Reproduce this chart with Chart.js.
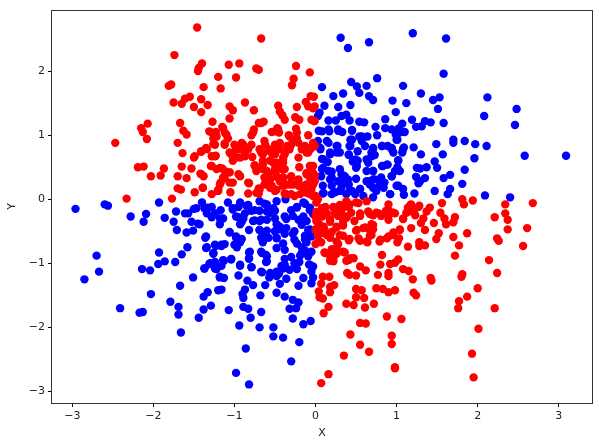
<!DOCTYPE html>
<html><head><meta charset="utf-8">
<script src="https://cdn.jsdelivr.net/npm/chart.js@4"></script>
<style>html,body{margin:0;padding:0;background:#fff}canvas{display:block}</style></head>
<body><canvas id="c" width="599" height="446"></canvas>
<script>
const xTicks=[-3,-2,-1,0,1,2,3];
const yTicks=[-3,-2,-1,0,1,2];
const xRange=[-3.25,3.41];
const yRange=[-3.18,2.96];
const redPoints=[
[-1.46,2.68],[-.67,2.51],[-1.74,2.25],[-1.40,2.12],[-1.44,2.05],[-1.45,2.00],[-1.07,2.10],[-.94,2.12],[-.73,2.04],[-.70,2.02],[-.24,2.08],[-.07,1.98],[-1.20,1.91],[-.98,1.90],[-.27,1.88],[-.29,1.78],[-1.81,1.77],[-1.78,1.79],[-1.38,1.75],[-1.17,1.73],[-.06,1.61],[-.12,1.52],[-1.55,1.60],[-1.61,1.57],[-1.41,1.56],[-1.75,1.51],[-1.65,1.49],[-1.33,1.47],[-1.50,1.44],[-1.41,1.36],[-.87,1.51],[-1.06,1.45],[-1.02,1.39],[-.76,1.39],[-.46,1.46],[-.44,1.37],[-.41,1.31],[-.38,1.24],[-.23,1.44],[-.25,1.28],[-.20,1.24],[-.09,1.45],[-.03,1.42],[-.05,1.24],[-.01,1.22],[-1.06,1.26],[-2.07,1.18],[-2.15,1.11],[-2.13,1.05],[-2.08,.94],[-2.47,.88],[-1.67,1.19],[-1.63,1.07],[-1.59,1.01],[-1.70,.88],[-1.64,.72],[-1.50,.65],[-1.27,1.21],[-.70,1.19],[-.64,1.21],[-.76,1.09],[-.79,1.00],[-1.15,1.13],[-1.31,1.06],[-1.23,1.05],[-1.12,1.04],[-1.08,.95],[-1.26,.95],[-1.26,.86],[-1.12,.87],[-.54,1.05],[-.47,1.11],[-.45,1.04],[-.33,1.00],[-.24,1.10],[-.23,.95],[-.09,1.00],[-.28,.91],[-.35,.83],
[-2.19,.50],[-2.12,.51],[-2.03,.36],[-1.91,.37],[-1.87,.48],[-2.33,.01],[-1.77,.01],[-1.70,.36],[-1.65,.51],[-1.59,.33],[-1.53,.48],[-1.70,.17],[-1.66,.15],[-1.49,.11],[-1.39,.18],[-1.42,.40],[-1.38,.36],[-1.41,.74],[-1.34,.78],[-1.23,.68],[-1.29,.52],[-1.22,.47],[-1.15,.48],[-1.06,.42],[-1.12,.33],[-1.17,.26],[-1.20,.15],[-1.28,.08],[-1.02,.26],[-.93,.36],[-.82,.25],[-1.05,.11],[-.83,.09],[-.70,.17],[-.70,.09],
[-1.06,.73],[-1.02,.60],[-.98,.80],[-.91,.88],[-.87,.73],[-.79,.85],[-.78,.66],[-1.00,.67],[-.93,.65],[-.89,.80],[-.67,.73],[-.63,.91],[-.58,.78],[-.53,.70],[-.48,.80],[-.44,.88],[-.34,.78],[-.30,.85],[-.21,.88],[-.15,.80],[-.07,.78],[-.01,.83],[-.11,.73],[-.21,.65],[-.40,.65],[-.52,.57],[-.65,.60],[-.75,.53],[-.73,.44],[-.65,.47],[-.58,.39],[-.50,.47],[-.42,.47],[-.40,.57],[-.20,.50],[-.07,.52],[-.03,.41],[-.11,.39],[-.30,.34],[-.40,.34],[-.48,.35],[-.58,.31],[-.63,.23],[-.54,.21],[-.44,.28],[-.36,.23],[-.28,.23],[-.21,.26],[-.11,.23],[-.05,.16],[-.01,.28],[-.48,.15],[-.36,.08],[-.26,.05],[-.11,.10],[-.03,.05],[-.15,.18],[-.02,1.60],[-.01,1.45],[-.02,1.22],[-.03,.52],[-.01,.37],[0,.05],
[-1.00,.85],[-.95,.78],[-1.04,.70],[-.89,.85],[-.83,.78],[-.87,.67],[-.98,.65],[-.69,.78],[-.62,.85],[-.65,.70],[-.56,.75],[-.50,.85],[-.50,.70],[-.44,.78],[-.38,.70],[-.32,.98],[-.26,.91],[-.32,.78],[-.40,.62],[-.48,.57],[-.56,.60],[-.65,.54],[-.71,.47],[-.75,.52],[-.60,.44],[-.50,.44],[-.44,.49],[-.38,.47],[-.63,.34],[-.56,.31],[-.48,.36],[-.40,.34],[-.30,.36],[-.21,.31],[-.11,.41],[-.05,.52],[-.07,.34],[-.03,.23],[-.13,.21],[-.21,.21],[-.32,.23],[-.40,.21],[-.50,.13],[-.38,.09],[-.30,.08],[-.19,.08],[-.07,.08],[-.01,.05],[-.69,.15],[-.73,.10],[-.56,.18],[-.13,.83],[-.05,.80],[-.17,.78],[-.09,.73],[-.03,.88],[-1.41,.75],[-1.35,.80],[-1.49,.67],[-1.28,.67],[-1.24,.67],[-1.28,.52],[-1.18,.49],[-1.12,.44],[-1.06,.42],[-1.14,.34],[-1.18,.23],[-.95,.39],[-1.06,.26],[-1.41,.39],[-1.39,.18],[-1.20,.13],[-.83,.26],[-1.28,1.04],[-1.22,.98],[-1.14,1.11],[-1.10,1.01],[-1.24,.85],[-1.12,.85],[-.77,1.04],[-.50,1.06],[-.46,1.09],[-.23,1.04],[-.67,1.19],
[2.68,-.06],[1.94,-.02],[1.81,0],[1.83,-.08],[1.56,-.06],[2.34,-.08],[2.34,-.22],[2.21,-.28],[2.37,-.32],[2.37,-.47],[2.61,-.45],[2.56,-.73],[2.24,-.61],[2.26,-.65],[2.14,-.95],[2.24,-1.15],[1.87,-.53],[1.70,-.59],[1.77,-.72],[1.72,-.88],[1.81,-1.17],[1.80,-1.21],[2.00,-1.39],[1.87,-1.52],[1.77,-1.59],[1.76,-1.70],[2.21,-1.70],[2.01,-2.02],[1.93,-2.41],[1.95,-2.78],[1.42,-1.23],[1.43,-1.27],[1.20,-1.25],[1.21,-1.46],[1.24,-1.50],[1.06,-1.87],[.88,-1.83],[.94,-2.13],[.94,-2.26],[.98,-2.62],[.98,-2.64],[.66,-2.38],[.55,-2.27],[.43,-2.11],[.35,-2.44],[.16,-2.73],[.07,-2.87],[.55,-1.93],[.62,-1.94],[.72,-1.63],[.61,-1.69],[.38,-1.63],[.47,-1.65],[.16,-1.68],[.10,-1.78],[.09,-1.55],[.05,-1.53],[.04,-1.44],[.18,-1.45],[.18,-1.37],[.23,-1.34],[.09,-1.21],[.17,-1.21],[.07,-1.32],[.50,-1.40],[.57,-1.42],[.50,-1.53],[.60,-1.54],[.75,-1.39],[.83,-1.40],[.90,-1.45],[.98,-1.42],
[.77,-1.18],[.90,-1.15],[.90,-1.20],[.80,-1.02],[.82,-.87],[.92,-1.01],[1.02,-.94],[.98,-.99],[1.08,-1.09],[1.15,-1.12],[.55,-1.05],[.62,-1.11],[.39,-1.15],[.42,-1.18],[.50,-1.19],
[1.14,-.74],[1.28,-.67],[1.28,-.73],[1.35,-.72],[1.01,-.67],[.79,-.66],[.90,-.58],[1.49,-.62],[1.52,-.53],[1.18,-.45],[1.35,-.48],[1.30,-.37],[1.46,-.37],[1.61,-.39],[1.70,-.36],[1.72,-.28],[1.54,-.21],[1.59,-.30],[1.41,-.13],[1.28,-.10],[1.18,-.08],[1.08,-.31],[1.12,-.21],[1.22,-.16],[1.14,-.13],[1.04,-.47],[.96,-.52],[1.03,-.61],[.90,-.08],[.87,-.18],[.96,-.21],[.90,-.32],[.81,-.26],[.75,-.21],[.67,-.23],[.55,-.26],[.48,-.34],[.69,-.39],[.71,-.47],[.61,-.44],[.50,-.49],[.67,-.57],[.55,-.65],[.64,-.67],[.42,-.62],[.34,-.57],[.18,-.60],[.07,-.67],[0,-.70],[.03,-.57],[.11,-.47],[.26,-.44],[.34,-.41],[.05,-.41],[.01,-.34],[.09,-.26],[.18,-.31],[.26,-.16],[.34,-.13],[.22,-.13],[.42,-.08],[.50,-.05],[.63,-.03],[.38,-.03],[.44,-.21],[.28,-.26],[.38,-.29],[.11,-.18],[.28,-.70],[.20,-.78],[.11,-.83],[.36,-.83],[.26,-.85],[.18,-.96],[.22,-.93],[.38,-.96],[.43,-.92],[.01,-.05],[.03,0],[.01,-.2],[.02,-.45],
[.08,-.27],[.14,-.22],[.04,-.38],[.10,-.43],[.18,-.35],[.24,-.22],[.22,-.12],[.30,-.09],[.32,-.22],[.41,-.12],[.39,-.27],[.34,-.35],[.26,-.43],[.20,-.51],[.06,-.53],[.04,-.66],[.14,-.56],[.26,-.66],[.30,-.56],[.41,-.64],[.51,-.48],[.59,-.45],[.67,-.48],[.71,-.40],[.53,-.61],[.63,-.66],[.69,-.56],[.26,-.76],[.34,-.82],[.18,-.89],[.12,-.84],[.22,-.97],[.41,-.95],[.47,-.92],[.55,-.22],[.65,-.19],[.71,-.25],[.78,-.22],[.90,-.25],[.90,-.17],[.98,-.22],[1.08,-.30],[1.15,-.19],[1.17,-.09],[1.27,-.12],[1.23,-.25],[1.37,-.19],[1.33,-.30],[.88,-.61],[.80,-.63],[.96,-.56],[1.04,-.48],[.53,-.06],[.12,-.12],[0,-.27],[0,-.48],[.08,-.14]
];
const bluePoints=[
[.31,2.52],[.40,2.36],[.66,2.45],[1.20,2.59],[1.61,2.51],[1.58,1.96],[.76,1.89],[.44,1.83],[.51,1.76],[.63,1.77],[.54,1.66],[.08,1.75],[.22,1.61],[.34,1.65],[1.08,1.77],[1.30,1.65],[.66,1.61],[.71,1.55],[.95,1.54],[1.12,1.50],[1.45,1.55],[1.53,1.59],[1.51,1.41],[2.12,1.59],[2.48,1.41],[2.08,1.30],[2.46,1.16],[.99,1.36],[1.19,1.24],[1.24,1.13],[1.31,1.14],[1.35,1.22],[1.42,1.20],[1.58,1.19],[.86,1.25],[.86,1.11],[.74,1.13],[.76,1.00],[1.07,1.18],[1.03,1.11],[1.10,1.05],[.99,1.01],[1.01,.93],
[.11,1.46],[.28,1.44],[.43,1.47],[.05,1.35],[.38,1.32],[.32,1.30],[.42,1.23],[.25,1.23],[.16,1.23],[.03,1.30],[.54,1.21],[.60,1.20],[.04,1.07],[.17,1.06],[.28,1.07],[.33,1.05],[.45,1.07],[.54,.98],[.64,.98],[.16,.88],[.03,.91],[.06,.80],[.43,.93],[.42,.83],[.27,.83],[.57,.91],[.61,.83],[.52,.75],[.71,.79],[.82,.83],[.89,.83],[.96,.73],[.94,.80],[1.09,.81],[1.07,.73],[1.21,.81],[1.30,.70],[1.49,.86],[1.57,.70],[1.70,.93],[1.70,.88],[1.84,.91],[1.97,.86],[2.11,.83],[1.96,.64],[1.84,.46],[2.58,.68],[3.09,.68],
[1.47,.59],[1.50,.49],[1.37,.50],[1.29,.48],[1.66,.38],[1.58,.33],[1.35,.33],[1.29,.28],[1.24,.35],[1.27,.25],[1.81,.24],[1.47,.13],[1.66,.16],[1.63,.08],[2.09,.06],[2.40,.03],[1.22,.09],[1.09,.07],[1.08,.16],[1.00,.21],[.92,.08],
[.08,.63],[.15,.58],[.18,.70],[.26,.73],[.41,.69],[.46,.59],[.52,.60],[.50,.49],[.30,.47],[.20,.43],[.09,.49],[.07,.36],[.18,.31],[.32,.39],[.40,.31],[.50,.32],[.65,.57],[.69,.67],[.73,.69],[.71,.44],[.83,.52],[.89,.54],[1.02,.61],[1.01,.50],[.94,.36],[1.04,.44],[.63,.28],[.73,.31],[.81,.34],[.67,.23],[.79,.21],[.85,.26],[.75,.13],[.55,.16],[.42,.13],[.32,.18],[.24,.11],[.09,.21],[.09,.09],[.36,.26],[.71,.03],
[.16,1.09],[.28,1.09],[.45,1.08],[.57,.98],[.45,.93],[.43,.83],[.26,.83],[.30,.73],[.41,.70],[.49,.62],[.51,.52],[.63,.62],[.69,.73],[.71,.80],[.82,.83],[.94,.78],[1.08,.78],[.82,.52],[.88,.54],[1.02,.60],[.98,.44],[.94,.36],[.63,.44],[.71,.44],[.36,.36],[.28,.28],[.16,.44],[.10,.62],[.08,.47],[.20,.34],[.20,.21],[.30,.13],[.41,.23],[.45,.13],[.55,.16],[.65,.28],[.71,.18],[.80,.28],[.84,.18],[.92,.08],[1.02,.21],[.71,.31],[.38,.08],[.10,.10],[.20,.08],[.49,.08],[.59,.05],[1.25,.49],[.06,.78],[.14,.91],[.08,1.06],[.18,.73],[.94,1.09],[1.00,.93],[1.04,1.04],
[-2.96,-.15],[-2.60,-.08],[-2.56,-.10],[-1.93,-.05],[-2.28,-.27],[-2.09,-.23],[-2.12,-.35],[-1.86,-.29],[-1.72,-.19],[-1.75,-.35],[-1.71,-.48],[-1.61,-.22],[-1.57,-.22],[-1.50,-.15],[-1.40,-.05],[-1.33,-.13],[-1.17,-.17],[-1.34,-.22],[-1.28,-.28],[-1.53,-.35],[-1.43,-.39],[-1.51,-.49],[-1.59,-.52],[-1.18,-.39],[-1.14,-.30],[-1.36,-.60],[-1.34,-.75],[-1.58,-.75],[-1.65,-.86],[-1.93,-.83],[-1.86,-.97],[-1.94,-1.01],[-1.73,-.98],[-2.70,-.88],[-2.67,-1.13],[-2.85,-1.25],[-2.14,-1.09],[-2.04,-1.11],[-1.51,-1.22],[-1.67,-1.35],[-2.03,-1.48],[-2.41,-1.70],[-2.17,-1.77],[-2.13,-1.76],[-1.79,-1.60],[-1.69,-1.68],[-1.69,-1.80],[-1.66,-2.08],[-1.44,-1.85],[-1.38,-1.72],[-1.29,-1.66],[-1.07,-1.73],[-1.38,-1.52],[-1.33,-1.45],[-1.20,-1.42],[-1.16,-1.41],[-1.37,-1.08],[-1.31,-1.01],[-1.26,-.85],[-1.23,-.73],[-1.16,-.73],[-1.12,-.70],[-1.22,-1.09],[-1.18,-1.22],[-1.13,-1.23],[-1.24,-.98],[-1.16,-1.04],[-1.13,-.96],[-1.04,-.93],[-.93,-1.04],[-.95,-1.19],[-.84,-1.27],[-.77,-1.34],[-.87,-1.41],[-.90,-1.48],[-.89,-1.54],[-.68,-1.50],[-.89,-1.68],[-.83,-1.71],[-.67,-1.76],[-.80,-1.85],[-.94,-1.97],[-.69,-2.00],[-.52,-2.00],[-.52,-2.14],[-.40,-2.16],[-.06,-1.90],[-.15,-1.95],[-.28,-1.86],[-.20,-2.23],[-.86,-2.33],[-.30,-2.53],[-.98,-2.71],[-.82,-2.89],
[-.38,-1.52],[-.48,-1.46],[-.28,-1.57],[-.21,-1.61],[-.32,-1.71],[-.24,-1.70],[-.82,-.83],[-.82,-.93],[-.79,-1.06],[-.66,-.84],[-.61,-.87],[-.61,-.98],[-.66,-1.14],[-.62,-1.34],[-.57,-1.22],[-.50,-1.17],[-.45,-1.16],[-.44,-1.32],[-.36,-1.24],[-.42,-1.04],[-.38,-.93],[-.30,-.90],[-.32,-1.10],[-.23,-1.09],[-.20,-.98],[-.19,-.88],[-.15,-1.23],[-.08,-1.02],[-.03,-1.05],[-.05,-1.31],[-.03,-1.22],[-.21,-1.35],[-.48,-.76],[-.38,-.79],[-.23,-.69],[-.13,-.80],[-.05,-.82],[-.17,-.75],
[-1.06,-.52],[-.98,-.60],[-.91,-.62],[-.97,-.75],[-.93,-.67],[-.82,-.48],[-.93,-.39],[-.95,-.28],[-.89,-.30],[-1.02,-.16],[-1.08,-.05],[-.93,-.05],[-.85,-.10],[-.79,-.18],[-.69,-.03],[-.60,-.08],[-.69,-.18],[-.56,-.21],[-.50,-.18],[-.48,-.03],[-.37,0],[-.77,-.34],[-.69,-.34],[-.60,-.32],[-.48,-.39],[-.44,-.47],[-.69,-.48],[-.60,-.49],[-.67,-.60],[-.65,-.67],[-.58,-.60],[-.48,-.60],[-.38,-.54],[-.28,-.54],[-.36,-.31],[-.28,-.26],[-.23,-.13],[-.15,-.05],[-.07,-.13],[-.11,-.34],[-.07,-.47],[-.13,-.57],[-.03,-.23],[-.17,-.40],[-.11,-.67],
[-.95,-.12],[-1.02,-.14],[-.83,-.09],[-.75,-.17],[-.63,-.07],[-.52,-.14],[-.60,-.19],[-.87,-.22],[-.98,-.27],[-.91,-.35],[-.75,-.33],[-.67,-.32],[-.50,-.30],[-.44,-.43],[-.36,-.45],[-.26,-.50],[-.50,-.50],[-.65,-.53],[-.69,-.48],[-.98,-.58],[-.93,-.63],[-1.00,-.71],[-.38,-.27],[-.30,-.17],[-.23,-.12],[-.15,-.27],[-.07,-.17],[-.13,-.07],[-.21,-.32],[-.09,-.48],[-.05,-.58],[-.13,-.63],[-.26,-.63],[-.48,-.61],[-.40,-.69],[-.17,-.84],[-.09,-.89],[-.07,-1.02],[-.05,-1.13],[-.26,-1.00],[-.38,-1.02],[-.40,-1.08],[-.56,-1.15],[-.48,-1.13],[-.48,-1.20],[-1.28,-.12],[-1.37,-.14],[-1.18,-.30],[-1.24,-.22],[-1.47,-.14],[-1.45,-.38],[-1.06,-.51],[-1.24,-.71],[-1.16,-.71],[-1.35,-.58],[-1.35,-.76],[-1.26,-.84],[-1.30,-1.00],[-1.37,-1.08],[-1.24,-1.08],[-1.14,-.95],[-1.04,-.94],[-1.18,-1.21],[-.93,-1.02],[-.81,-.82],[-.82,-.92],[-.67,-.82],[-.60,-.89],[-.60,-.97],[-.79,-1.06],[-.67,-1.13]
];
const pts=a=>a.map(p=>({x:p[0],y:p[1]}));
const frame={id:'frame',afterDatasetsDraw(ch){const a=ch.chartArea,c=ch.ctx;c.save();c.strokeStyle='#333';c.lineWidth=1;c.strokeRect(Math.round(a.left)-.5,Math.round(a.top)+.5,Math.round(a.right-a.left)+1,Math.round(a.bottom-a.top));c.restore();}};
const font={family:'"DejaVu Sans"',size:11};
const fmt=v=>String(v).replace('-','\u2212');
new Chart(document.getElementById('c'),{type:'scatter',
data:{datasets:[
{label:'red',data:pts(redPoints),backgroundColor:'#ff0000',pointBorderWidth:0,pointRadius:4.2,order:0},
{label:'blue',data:pts(bluePoints),backgroundColor:'#0000ff',pointBorderWidth:0,pointRadius:4.2,order:1}]},
options:{responsive:false,animation:false,events:[],
layout:{padding:{top:8,right:7,left:0,bottom:0}},
plugins:{legend:{display:false},tooltip:{enabled:false}},
scales:{
x:{min:xRange[0],max:xRange[1],afterBuildTicks:s=>{s.ticks=xTicks.map(v=>({value:v}));},afterFit:s=>{s.height=43;},
grid:{drawOnChartArea:false,drawTicks:true,tickLength:4,color:'#000'},border:{display:false},
ticks:{autoSkip:false,maxRotation:0,padding:3,color:'#222',font,callback:fmt},
title:{display:true,text:'X',color:'#222',font,padding:{top:0,bottom:6}}},
y:{min:yRange[0],max:yRange[1],afterBuildTicks:s=>{s.ticks=yTicks.map(v=>({value:v}));},afterFit:s=>{s.width=52;},
grid:{drawOnChartArea:false,drawTicks:true,tickLength:4,color:'#000'},border:{display:false},
ticks:{autoSkip:false,padding:3,color:'#222',font,callback:fmt},
title:{display:true,text:'Y',color:'#222',font,padding:{top:6,bottom:0}}}
}},plugins:[frame]});
</script></body></html>
